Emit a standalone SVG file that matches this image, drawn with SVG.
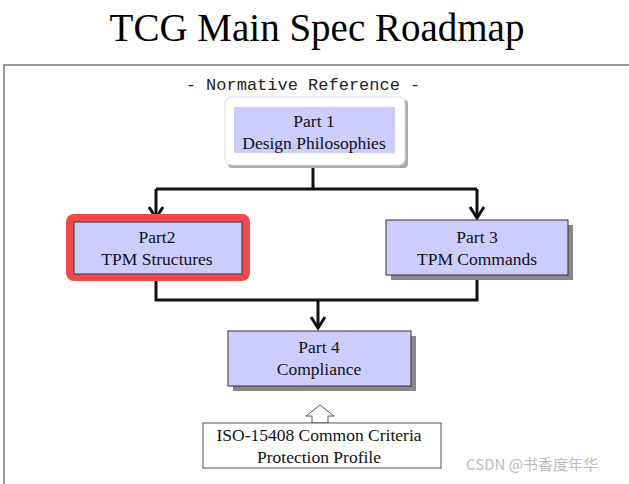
<svg xmlns="http://www.w3.org/2000/svg" width="629" height="484" viewBox="0 0 629 484">
<style>
.t{font-family:"Liberation Serif",serif;font-size:17.5px;fill:#111;text-anchor:middle}
.box{fill:#ccccff;stroke:#333;stroke-width:1}
.sh{fill:#888}
.ln{fill:none;stroke:#111;stroke-width:3}
.ah{fill:none;stroke:#111;stroke-width:3;stroke-linejoin:miter}
</style>
<rect width="629" height="484" fill="#fff"/>
<text x="317" y="41" style="font-family:'Liberation Serif',serif;font-size:39px;text-anchor:middle;fill:#000">TCG Main Spec Roadmap</text>
<rect x="4" y="65" width="630" height="425" fill="#fff" stroke="#777" stroke-width="1.5"/>
<text x="303" y="90" style="font-family:'Liberation Mono',monospace;font-size:17px;text-anchor:middle;fill:#222">- Normative Reference -</text>
<g id="connectors">
<path class="ln" d="M313,165 V189 M156,189 H477"/>
<path class="ln" d="M156,189 V218"/>
<path class="ah" d="M149,207 L156,218 L163,207"/>
<path class="ln" d="M477,189 V218"/>
<path class="ah" d="M470,207 L477,218 L484,207"/>
<path class="ln" d="M156,274 V300 H477 V275"/>
<path class="ln" d="M318,300 V328"/>
<path class="ah" d="M311,317 L318,328 L325,317"/>
<path d="M320,405 L334,416 H328 V423 H312 V416 H306 Z" fill="#fff" stroke="#555" stroke-width="1"/>
</g>
<g id="part1">
<rect x="228" y="100" width="180" height="68" fill="#aaa" rx="4"/>
<rect x="225" y="97" width="180" height="68" fill="#fff" rx="6" stroke="#ddd"/>
<rect x="234" y="107" width="161" height="46" fill="#ccccff"/>
<text class="t" x="314" y="127">Part 1</text>
<text class="t" x="314" y="149">Design Philosophies</text>
</g>
<g id="part2">
<rect x="66" y="214" width="184" height="67" rx="8" fill="#f24a4a"/>
<rect class="box" x="74" y="222" width="168" height="52"/>
<text class="t" x="157" y="243">Part2</text>
<text class="t" x="157" y="265">TPM Structures</text>
</g>
<g id="part3">
<rect class="sh" x="391" y="225" width="182" height="55"/>
<rect class="box" x="386" y="220" width="182" height="55"/>
<text class="t" x="477" y="243">Part 3</text>
<text class="t" x="477" y="265">TPM Commands</text>
</g>
<g id="part4">
<rect class="sh" x="233" y="336" width="183" height="55"/>
<rect class="box" x="228" y="331" width="183" height="55"/>
<text class="t" x="319" y="353">Part 4</text>
<text class="t" x="319" y="375">Compliance</text>
</g>
<g id="iso">
<rect x="203" y="423" width="238" height="45" fill="#fff" stroke="#555"/>
<text class="t" x="319" y="441">ISO-15408 Common Criteria</text>
<text class="t" x="319" y="463">Protection Profile</text>
</g>
<text x="532" y="470" style="font-family:'Noto Sans CJK SC',sans-serif;font-size:15px;fill:#bbb;text-anchor:middle">CSDN @书香度年华</text>
</svg>
